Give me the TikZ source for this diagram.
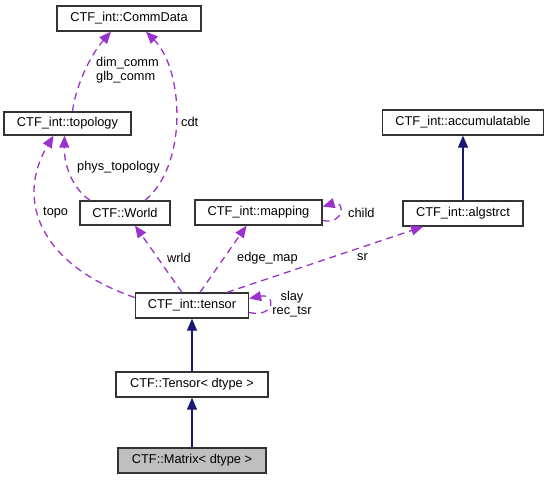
\documentclass[tikz,border=0pt]{standalone}
\usepackage{fontspec}
\setmainfont{Liberation Sans}
\usetikzlibrary{arrows.meta,calc}
\definecolor{pur}{HTML}{9A32CD}
\definecolor{nav}{HTML}{191970}
\begin{document}
\begin{tikzpicture}[x=1pt,y=-1pt, font=\fontsize{12.8}{14}\selectfont,
 cls/.style={draw=black!80, line width=1.3pt, minimum height=25pt, inner sep=0pt, fill=white},
 coll/.style={pur, dash pattern=on 7pt off 5pt, line width=1.3pt, -{Triangle[length=12pt,width=10pt]}},
 inh/.style={nav, line width=1.3pt, -{Triangle[length=12pt,width=10pt]}},
 lbl/.style={inner sep=0pt, anchor=west, align=left}]
\useasboundingbox (0,0) rectangle (548,480);
% classes
\node[cls, minimum width=144pt] (commdata) at (129,18.5) {CTF\_int::CommData};
\node[cls, minimum width=127pt, minimum height=23pt] (topology) at (67.5,123.5) {CTF\_int::topology};
\node[cls, minimum width=90pt, minimum height=24pt] (world) at (125,213) {CTF::World};
\node[cls, minimum width=127pt] (mapping) at (258.5,212.5) {CTF\_int::mapping};
\node[cls, minimum width=161pt] (accum) at (463,122.5) {CTF\_int::accumulatable};
\node[cls, minimum width=120pt] (algstrct) at (463,213.5) {CTF\_int::algstrct};
\node[cls, minimum width=113pt] (tensor) at (192,305.5) {CTF\_int::tensor};
\node[cls, minimum width=152pt] (tensorT) at (192,384.5) {CTF::Tensor< dtype >};
\node[cls, minimum width=148pt, fill=black!25] (matrix) at (192,460.5) {CTF::Matrix< dtype >};
% collaboration edges
\draw[coll] ([xshift=5pt]topology.north) .. controls (75,90) and (88,58) .. ([xshift=-18pt]commdata.south);
\draw[coll] ([xshift=20pt]world.north) .. controls (188,165) and (184,70) .. ([xshift=17pt]commdata.south);
\draw[coll] ([xshift=-35pt]world.north) .. controls (72,188) and (64,165) .. ([xshift=-3pt]topology.south);
\draw[coll] ([yshift=8pt]tensor.west) .. controls (40,265) and (15,200) .. ([xshift=-14pt]topology.south);
\draw[coll] ([xshift=-10pt]tensor.north) -- ([xshift=10pt]world.south);
\draw[coll] ([xshift=8pt]tensor.north) -- ([xshift=-12pt]mapping.south);
\draw[coll] ([xshift=35pt]tensor.north) -- ([xshift=-40pt]algstrct.south);
\draw[coll] ([yshift=-8pt]mapping.east) .. controls (345,225) and (345,200) .. ([yshift=6pt]mapping.east);
\draw[coll] ([yshift=-7pt]tensor.east) .. controls (276,318) and (276,293) .. ([yshift=7pt]tensor.east);
% inheritance edges
\draw[inh] (algstrct.north) -- (accum.south);
\draw[inh] (tensorT.north) -- (tensor.south);
\draw[inh] (matrix.north) -- (tensorT.south);
% labels
\node[lbl] (ldim) at (96,70) {dim\_comm\\glb\_comm};
\node[lbl] (lcdt) at (181,122) {cdt};
\node[lbl] (lphys) at (77,167) {phys\_topology};
\node[lbl] (ltopo) at (43,213) {topo};
\node[lbl] (lwrld) at (167,258) {wrld};
\node[lbl] (ledge) at (237,258) {edge\_map};
\node[lbl] (lsr) at (357,257) {sr};
\node[lbl] (lchild) at (348,213) {child};
\node[inner sep=0pt, align=center] (lslay) at (292,304.5) {slay\\rec\_tsr};
\end{tikzpicture}
\end{document}
